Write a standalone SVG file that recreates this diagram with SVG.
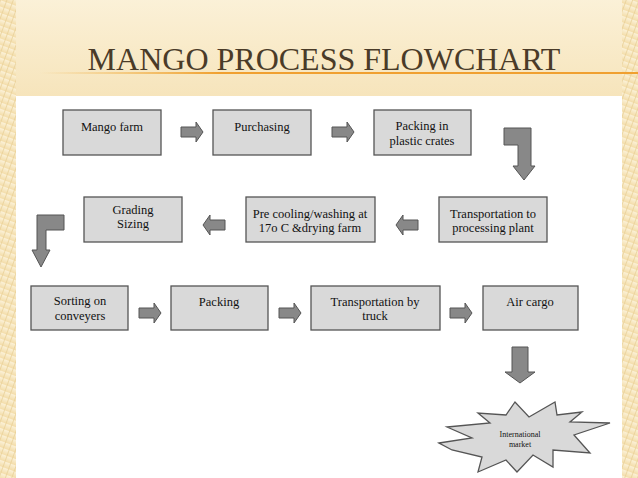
<svg xmlns="http://www.w3.org/2000/svg" width="638" height="478" viewBox="0 0 638 478">
<defs>
<linearGradient id="bg" x1="0" y1="0" x2="0" y2="1"><stop offset="0" stop-color="#fbf1d8"/><stop offset="1" stop-color="#f3dca8"/></linearGradient>
<pattern id="st" width="6" height="6" patternUnits="userSpaceOnUse" patternTransform="rotate(20)"><rect width="6" height="6" fill="url(#bg)"/><line x1="0" y1="0" x2="0" y2="6" stroke="#e8cf95" stroke-width="1.5"/></pattern>
<linearGradient id="ln" x1="0" x2="1"><stop offset="0" stop-color="#f0b040" stop-opacity="0"/><stop offset="0.3" stop-color="#f0a030"/><stop offset="1" stop-color="#f0a030"/></linearGradient>
<path id="ar" d="M0,-5 H15 V-10 L22,0 L15,10 V5 H0 Z"/>
</defs>
<style>
.box{fill:#d9d9d9;stroke:#555;stroke-width:1.3}
.t{font-family:"Liberation Serif",serif;font-size:12.5px;fill:#111;text-anchor:middle}
.s{font-size:8px}
.a{fill:#888;stroke:#555;stroke-width:1}
</style>
<rect width="638" height="478" fill="#fbf0d6"/>
<rect x="0" y="0" width="638" height="100" fill="url(#bg)" opacity="0.6"/>
<rect x="0" y="0" width="16" height="478" fill="url(#st)"/>
<rect x="622" y="0" width="16" height="478" fill="url(#st)"/>
<rect x="40" y="72" width="598" height="2" fill="url(#ln)"/>
<text x="324" y="70" font-family="Liberation Serif,serif" font-size="32" fill="#4a3b28" text-anchor="middle">MANGO PROCESS FLOWCHART</text>
<rect x="16" y="96" width="606" height="382" fill="#fff"/>
<g id="n1"><rect class="box" x="63" y="110" width="98" height="45"/><text class="t" x="112" y="131">Mango farm</text></g>
<g id="n2"><rect class="box" x="213" y="110" width="98" height="45"/><text class="t" x="262" y="131">Purchasing</text></g>
<g id="n3"><rect class="box" x="374" y="110" width="97" height="45"/><text class="t" x="422" y="130">Packing in</text><text class="t" x="422" y="145">plastic crates</text></g>
<g id="n4"><rect class="box" x="439" y="197" width="108" height="45"/><text class="t" x="493" y="218">Transportation to</text><text class="t" x="493" y="232">processing plant</text></g>
<g id="n5"><rect class="box" x="246" y="197" width="129" height="45"/><text class="t" x="310" y="218">Pre cooling/washing at</text><text class="t" x="310" y="232">17o C &amp;drying farm</text></g>
<g id="n6"><rect class="box" x="84" y="197" width="98" height="45"/><text class="t" x="133" y="214">Grading</text><text class="t" x="133" y="228">Sizing</text></g>
<g id="n7"><rect class="box" x="31" y="286" width="97" height="44"/><text class="t" x="80" y="305">Sorting on</text><text class="t" x="80" y="320">conveyers</text></g>
<g id="n8"><rect class="box" x="171" y="286" width="97" height="44"/><text class="t" x="219" y="306">Packing</text></g>
<g id="n9"><rect class="box" x="311" y="286" width="129" height="44"/><text class="t" x="375" y="306">Transportation by</text><text class="t" x="375" y="320">truck</text></g>
<g id="n10"><rect class="box" x="483" y="286" width="95" height="44"/><text class="t" x="530" y="306">Air cargo</text></g>
<g id="n11"><polygon class="box" points="439,443 472,438 447,427 490,423 478,413 506,415 515,402 529,417 555,402 557,415 582,412 570,422 610,423 574,435 590,453 553,450 553,467 533,455 517,472 506,460 478,472 482,457 452,450"/><text class="t s" x="520" y="437">International</text><text class="t s" x="520" y="447">market</text></g>
<g id="connectors">
<use href="#ar" class="a" transform="translate(181,132)"/>
<use href="#ar" class="a" transform="translate(332,132)"/>
<path class="a" d="M504,128 H531 V166 H535 L524,180 L513,166 H518 V145 H504 Z"/>
<use href="#ar" class="a" transform="translate(418,225) scale(-1,1)"/>
<use href="#ar" class="a" transform="translate(225,225) scale(-1,1)"/>
<path class="a" d="M64,215 V230 H46 V250 H50 L41,267 L32,250 H37 V215 Z"/>
<use href="#ar" class="a" transform="translate(139,313)"/>
<use href="#ar" class="a" transform="translate(279,313)"/>
<use href="#ar" class="a" transform="translate(450,313)"/>
<path class="a" d="M512,347 H528 V372 H535 L520,383 L505,372 H512 Z"/>
</g>
</svg>
